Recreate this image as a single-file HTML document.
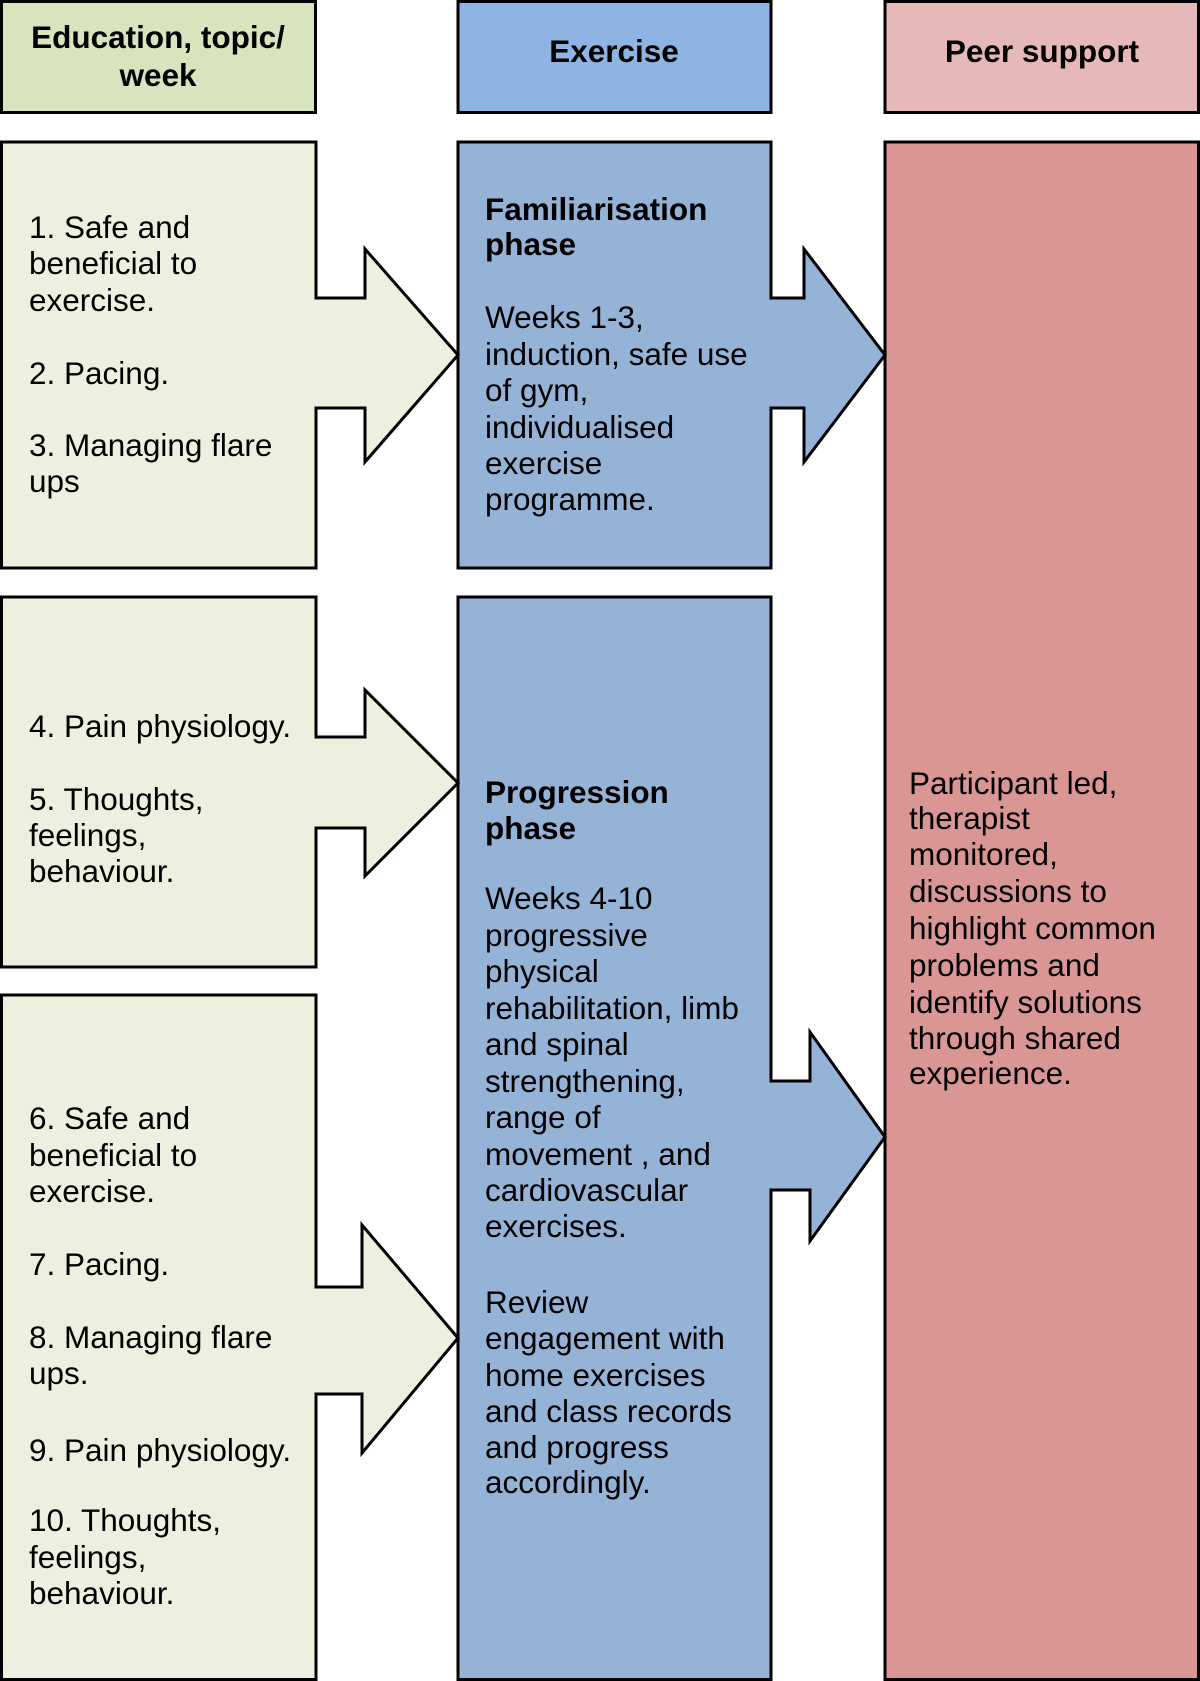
<!DOCTYPE html>
<html><head><meta charset="utf-8"><style>
html,body{margin:0;padding:0;background:#fff;}
svg{display:block;}
text{font-family:"Liberation Sans",Arial,sans-serif;font-size:31.5px;fill:#000;}
.b{font-weight:bold;}
</style></head><body>
<svg width="1200" height="1681" viewBox="0 0 1200 1681" xmlns="http://www.w3.org/2000/svg">
<g stroke="#000" stroke-width="3" stroke-linejoin="miter">
<rect x="1.5" y="1.5" width="314" height="111" fill="#d7e4bd"/>
<rect x="458" y="1.5" width="313" height="111" fill="#8eb4e3"/>
<rect x="885" y="1.5" width="313.5" height="111" fill="#e6b9b8"/>
<rect x="885" y="142" width="313.5" height="1537.5" fill="#d99694"/>
<polygon points="458,142 771,142 771,298 804,298 804,249 885,355 804,462 804,408 771,408 771,568 458,568" fill="#95b3d7"/>
<polygon points="458,597 771,597 771,1081 810,1081 810,1032 885,1137 810,1241 810,1190 771,1190 771,1679.5 458,1679.5" fill="#95b3d7"/>
<polygon points="1.5,142 316,142 316,298 365,298 365,249 458,355 365,462 365,408 316,408 316,568 1.5,568" fill="#ebf1de"/>
<polygon points="1.5,597 316,597 316,737 365,737 365,690 458,783 365,876 365,828 316,828 316,967 1.5,967" fill="#ebf1de"/>
<polygon points="1.5,995 316,995 316,1287 362,1287 362,1225 458,1338 362,1453 362,1394 316,1394 316,1679.5 1.5,1679.5" fill="#ebf1de"/>
</g>
<text class="b" x="158" y="48" text-anchor="middle">Education, topic/</text>
<text class="b" x="158" y="86" text-anchor="middle">week</text>
<text class="b" x="614" y="62" text-anchor="middle">Exercise</text>
<text class="b" x="1042" y="62" text-anchor="middle">Peer support</text>

<text x="29" y="238">1. Safe and</text>
<text x="29" y="274">beneficial to</text>
<text x="29" y="311">exercise.</text>
<text x="29" y="384">2. Pacing.</text>
<text x="29" y="456">3. Managing flare</text>
<text x="29" y="492">ups</text>

<text class="b" x="485" y="220">Familiarisation</text>
<text class="b" x="485" y="255">phase</text>
<text x="485" y="328">Weeks 1-3,</text>
<text x="485" y="365">induction, safe use</text>
<text x="485" y="401">of gym,</text>
<text x="485" y="438">individualised</text>
<text x="485" y="474">exercise</text>
<text x="485" y="510">programme.</text>

<text x="29" y="737">4. Pain physiology.</text>
<text x="29" y="810">5. Thoughts,</text>
<text x="29" y="846">feelings,</text>
<text x="29" y="882">behaviour.</text>

<text class="b" x="485" y="803">Progression</text>
<text class="b" x="485" y="839">phase</text>
<text x="485" y="909">Weeks 4-10</text>
<text x="485" y="946">progressive</text>
<text x="485" y="982">physical</text>
<text x="485" y="1019">rehabilitation, limb</text>
<text x="485" y="1055">and spinal</text>
<text x="485" y="1092">strengthening,</text>
<text x="485" y="1128">range of</text>
<text x="485" y="1165">movement , and</text>
<text x="485" y="1201">cardiovascular</text>
<text x="485" y="1237">exercises.</text>
<text x="485" y="1313">Review</text>
<text x="485" y="1349">engagement with</text>
<text x="485" y="1386">home exercises</text>
<text x="485" y="1422">and class records</text>
<text x="485" y="1458">and progress</text>
<text x="485" y="1493">accordingly.</text>

<text x="29" y="1129">6. Safe and</text>
<text x="29" y="1166">beneficial to</text>
<text x="29" y="1202">exercise.</text>
<text x="29" y="1275">7. Pacing.</text>
<text x="29" y="1348">8. Managing flare</text>
<text x="29" y="1384">ups.</text>
<text x="29" y="1461">9. Pain physiology.</text>
<text x="29" y="1531">10. Thoughts,</text>
<text x="29" y="1568">feelings,</text>
<text x="29" y="1604">behaviour.</text>

<text x="909" y="794">Participant led,</text>
<text x="909" y="829">therapist</text>
<text x="909" y="865">monitored,</text>
<text x="909" y="902">discussions to</text>
<text x="909" y="939">highlight common</text>
<text x="909" y="976">problems and</text>
<text x="909" y="1013">identify solutions</text>
<text x="909" y="1049">through shared</text>
<text x="909" y="1084">experience.</text>
</svg>
</body></html>
